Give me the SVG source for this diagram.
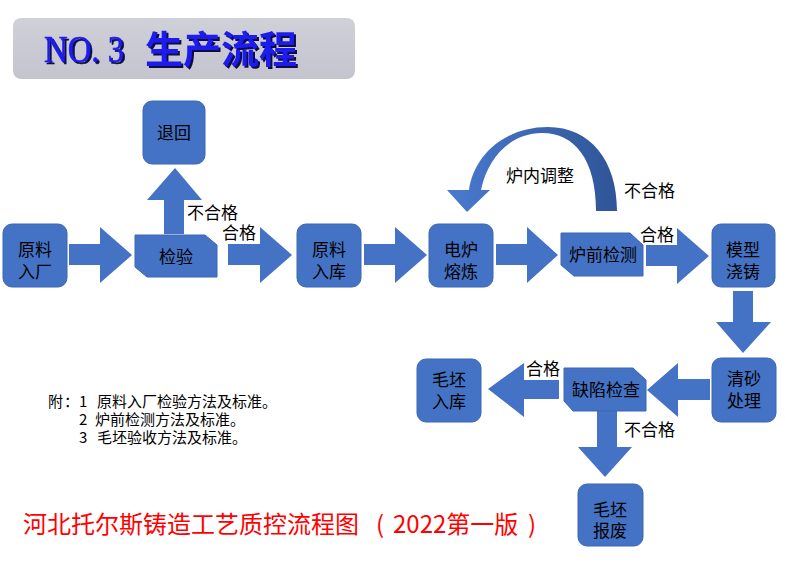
<svg xmlns="http://www.w3.org/2000/svg" width="785" height="572" viewBox="0 0 785 572">
<defs>
<style>
.box{fill:#4472C4;stroke:#3b66b5;stroke-width:1}
.arr{fill:#4472C4}
.t{font-family:"Noto Sans CJK SC","Noto Sans",sans-serif;font-size:17px;fill:#000}
.lbl{font-family:"Noto Sans CJK SC","Noto Sans",sans-serif;font-size:17px;fill:#000}
.note{font-family:"Noto Sans CJK SC","Noto Sans",sans-serif;font-size:15px;fill:#000}
.red{font-family:"Noto Sans CJK SC","Noto Sans",sans-serif;font-size:24px;fill:#ff0000}
</style>
<linearGradient id="curve" x1="0" y1="0" x2="1" y2="0">
<stop offset="0" stop-color="#4a7ad0"/>
<stop offset="1" stop-color="#2f5597"/>
</linearGradient>
<linearGradient id="tbg" x1="0" y1="0" x2="0" y2="1">
<stop offset="0" stop-color="#cfd0d8"/>
<stop offset="1" stop-color="#c3c4cd"/>
</linearGradient>
<filter id="shadow" x="-10%" y="-20%" width="130%" height="150%">
<feDropShadow dx="2" dy="2" stdDeviation="0.6" flood-color="#0d0d40" flood-opacity="1"/>
</filter>
</defs>
<rect width="785" height="572" fill="#fff"/>

<g id="title">
<rect x="13" y="18" width="342" height="61" rx="8" fill="url(#tbg)"/>
<g font-size="38" filter="url(#shadow)" fill="#1c1cf0">
<text x="44" y="62" font-family="Liberation Serif, serif" textLength="80" lengthAdjust="spacingAndGlyphs" stroke="#1c1cf0" stroke-width="0.6">NO. 3</text>
<text x="145" y="63" font-family="Noto Sans CJK SC, sans-serif" font-weight="bold">生产流程</text>
</g>
</g>

<g id="connectors">
<path class="arr" d="M69,244 H100 V227 L132,255 L100,283 V265 H69 Z"/>
<path class="arr" d="M228,244 H260 V227 L292,255 L260,283 V265 H228 Z"/>
<path class="arr" d="M364,244 H395 V227 L427,255 L395,283 V265 H364 Z"/>
<path class="arr" d="M496,244 H527 V227 L558,255 L527,283 V265 H496 Z"/>
<path class="arr" d="M646,245 H677 V228 L709,256 L677,284 V266 H646 Z"/>
<path class="arr" d="M164,234 V200 H147 L175,168 L202,200 H184 V234 Z"/>
<path class="arr" d="M733,291 H753 V322 H771 L743,353 L716,322 H733 Z"/>
<path class="arr" d="M710,379 H678 V363 L647,390 L678,417 V400 H710 Z"/>
<path class="arr" d="M559,380 H524 V363 L488,389 L524,417 V399 H559 Z"/>
<path class="arr" d="M597,411 H617 V447 H632 L605,477 L578,447 H597 Z"/>
<path fill="url(#curve)" d="M617,211 C617,160 590,127 548,127 C505,127 474,155 469,190 L447,190 L467,212 L490,190 L481,190 C488,156 512,133 542,133 C575,133 596,160 596,211 Z"/>
<text class="lbl" x="187" y="219">不合格</text>
<rect x="221" y="224" width="35" height="20" fill="#fff"/>
<text class="lbl" x="222" y="239">合格</text>
<text class="lbl" x="506" y="182">炉内调整</text>
<text class="lbl" x="624" y="197">不合格</text>
<rect x="639" y="226" width="36" height="19" fill="#fff"/>
<text class="lbl" x="640" y="241">合格</text>
<rect x="525" y="360" width="37" height="19" fill="#fff"/>
<text class="lbl" x="526" y="375">合格</text>
<text class="lbl" x="624" y="436">不合格</text>
</g>

<g id="n-tuihui">
<rect class="box" x="143" y="101" width="62" height="63" rx="9"/>
<text class="t" x="174" y="139" text-anchor="middle">退回</text>
</g>
<g id="n-yuanliao-ruchang">
<rect class="box" x="3" y="224" width="64" height="63" rx="9"/>
<text class="t" text-anchor="middle"><tspan x="35" y="256">原料</tspan><tspan x="35" y="278">入厂</tspan></text>
</g>
<g id="n-jianyan">
<path class="box" d="M135,235 H205 L217,245 V277 H147 L135,267 Z"/>
<text class="t" x="176" y="263" text-anchor="middle">检验</text>
</g>
<g id="n-yuanliao-ruku">
<rect class="box" x="297" y="224" width="64" height="63" rx="9"/>
<text class="t" text-anchor="middle"><tspan x="329" y="256">原料</tspan><tspan x="329" y="278">入库</tspan></text>
</g>
<g id="n-dianlu">
<rect class="box" x="429" y="224" width="64" height="63" rx="9"/>
<text class="t" text-anchor="middle"><tspan x="461" y="256">电炉</tspan><tspan x="461" y="278">熔炼</tspan></text>
</g>
<g id="n-luqian">
<path class="box" d="M561,233 H630 L643,245 V276 H574 L561,265 Z"/>
<text class="t" x="603" y="261" text-anchor="middle">炉前检测</text>
</g>
<g id="n-moxing">
<rect class="box" x="712" y="224" width="63" height="63" rx="9"/>
<text class="t" text-anchor="middle"><tspan x="743" y="256">模型</tspan><tspan x="743" y="278">浇铸</tspan></text>
</g>
<g id="n-qingsha">
<rect class="box" x="712" y="358" width="64" height="64" rx="9"/>
<text class="t" text-anchor="middle"><tspan x="744" y="385">清砂</tspan><tspan x="744" y="407">处理</tspan></text>
</g>
<g id="n-quexian">
<path class="box" d="M564,368 H633 L646,380 V411 H573 L564,401 Z"/>
<text class="t" x="606" y="396" text-anchor="middle">缺陷检查</text>
</g>
<g id="n-maopi-ruku">
<rect class="box" x="417" y="359" width="64" height="63" rx="9"/>
<text class="t" text-anchor="middle"><tspan x="449" y="386">毛坯</tspan><tspan x="449" y="408">入库</tspan></text>
</g>
<g id="n-maopi-baofei">
<rect class="box" x="578" y="484" width="65" height="62" rx="9"/>
<text class="t" text-anchor="middle"><tspan x="610" y="516">毛坯</tspan><tspan x="610" y="537">报废</tspan></text>
</g>

<g id="notes">
<text class="note"><tspan x="48" y="407">附</tspan><tspan x="64" y="407">：</tspan><tspan x="79" y="407">1</tspan><tspan x="97" y="407">原料入厂检验方法及标准。</tspan><tspan x="79" y="425">2</tspan><tspan x="95" y="425">炉前检测方法及标准。</tspan><tspan x="79" y="443">3</tspan><tspan x="97" y="443">毛坯验收方法及标准。</tspan></text>
</g>

<g id="footer">
<text class="red"><tspan x="23" y="533">河北托尔斯铸造工艺质控流程图</tspan><tspan x="376" y="533">(</tspan><tspan x="393" y="533">2022第一版</tspan><tspan x="528" y="533">)</tspan></text>
</g>
</svg>
